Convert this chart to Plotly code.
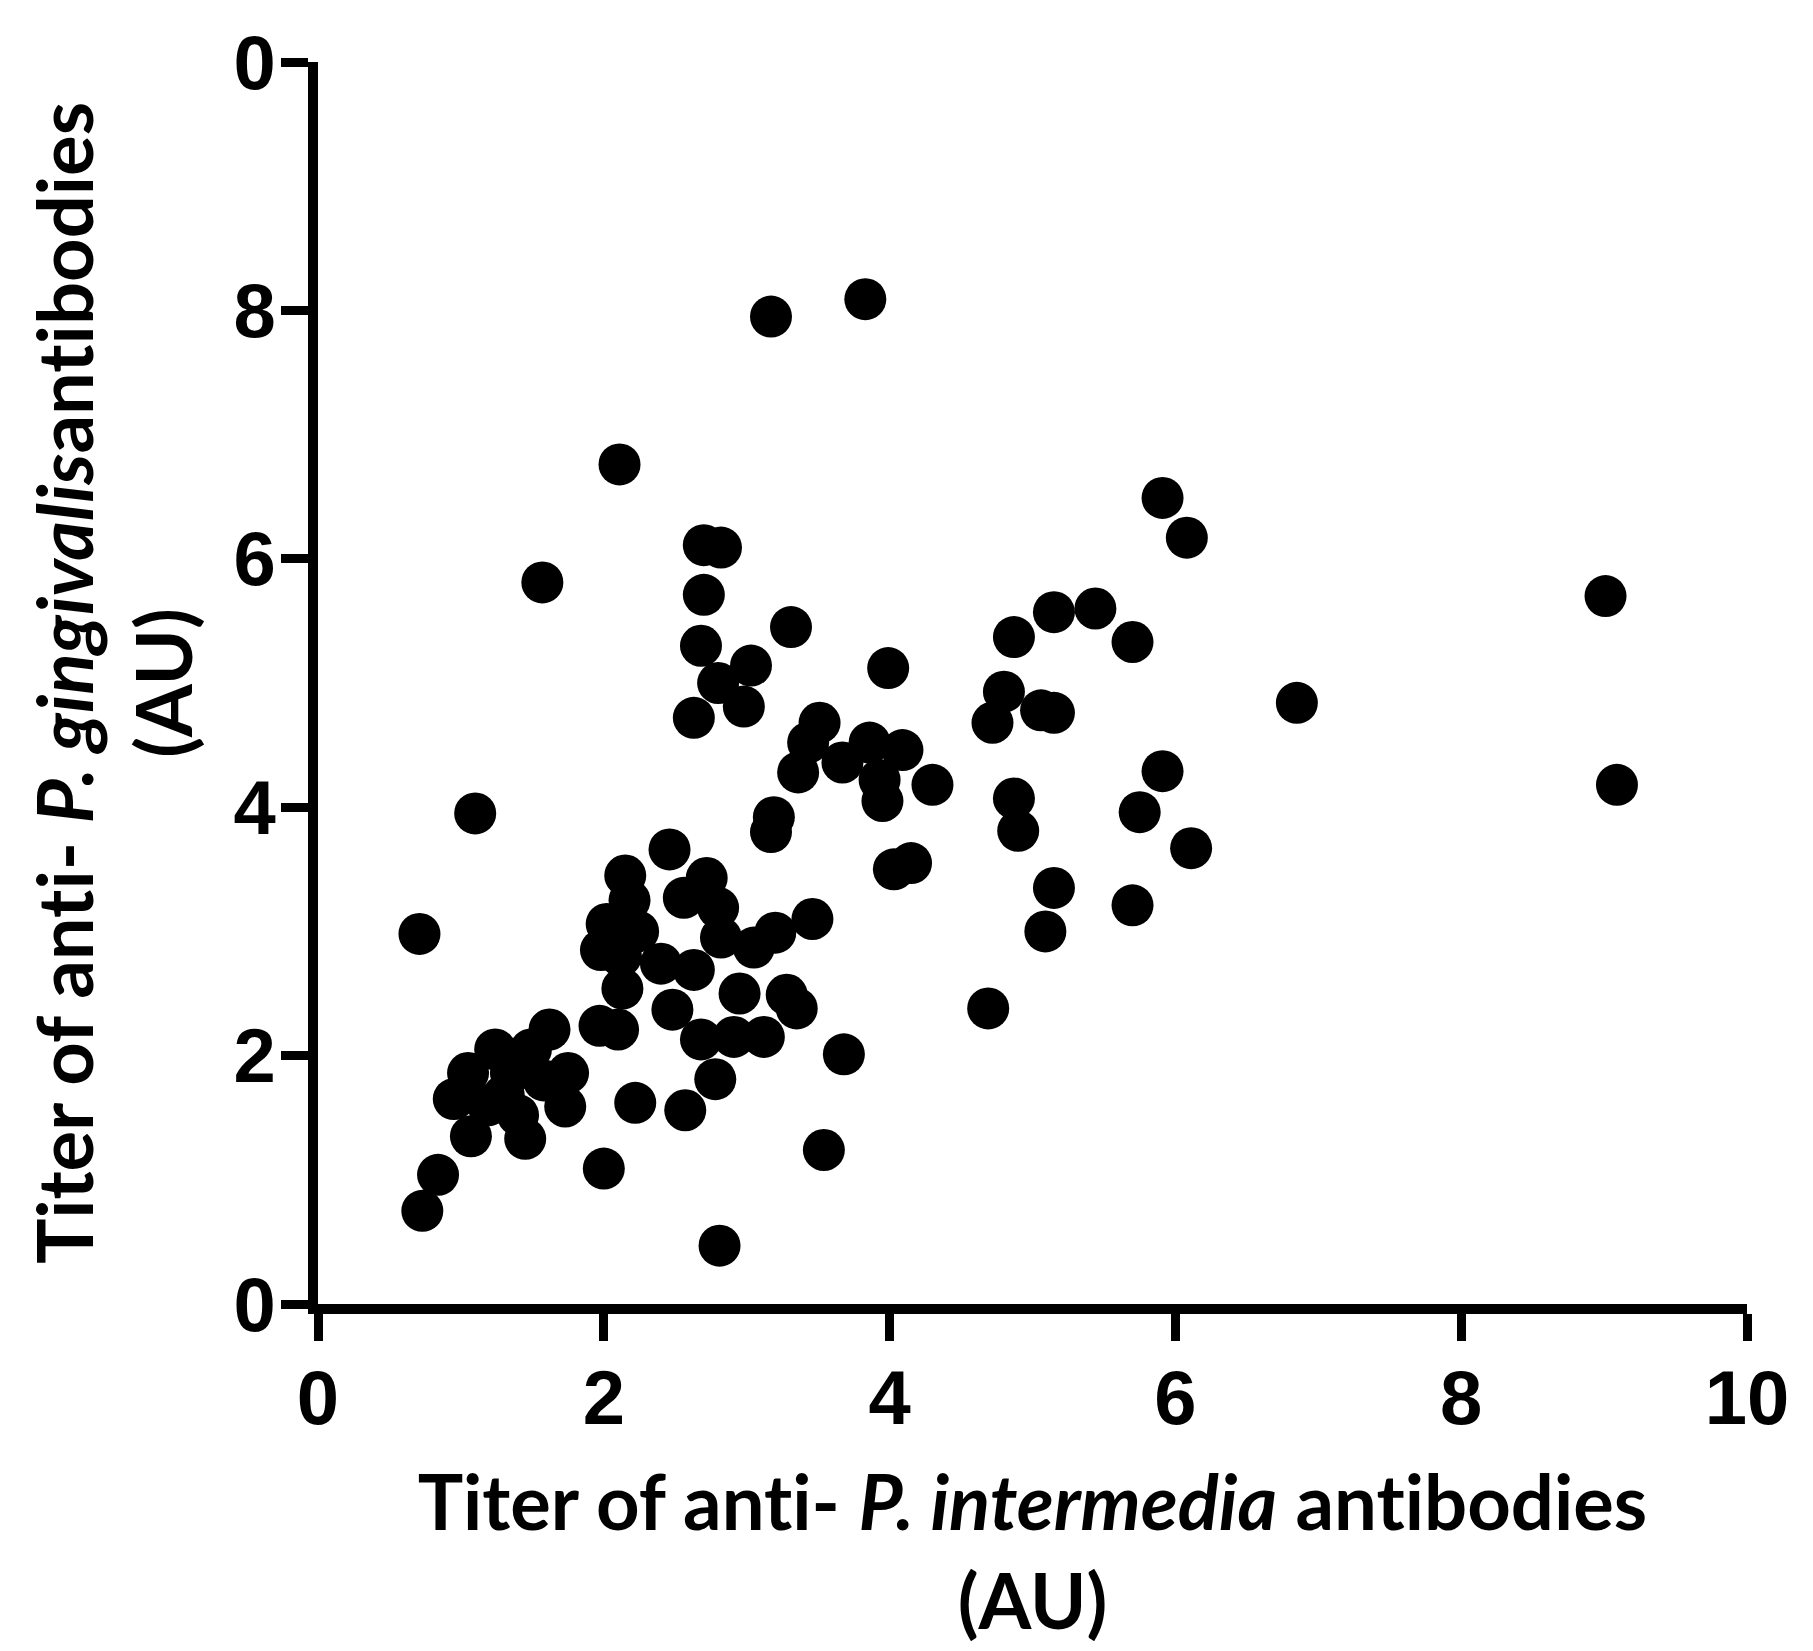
import plotly.graph_objects as go

# titer values (AU)
x_pi = [0.73, 0.84, 0.71, 1.10, 1.57, 2.11, 3.17, 3.83, 2.81, 2.00,
        0.95, 1.05, 1.07, 1.19, 1.24, 1.30, 1.35, 1.45, 1.49, 1.62, 1.73, 1.75, 1.40, 1.58,
        1.97, 2.10, 2.13, 1.98, 2.02, 2.15, 2.18, 2.24, 2.22, 2.12,
        2.46, 2.48, 2.40, 2.63, 2.57, 2.78, 2.72, 2.56, 2.80, 2.82, 2.68, 2.91, 3.12,
        2.95, 3.28, 3.35, 3.05, 3.20, 3.46, 3.68, 3.54,
        2.70, 2.82, 2.70, 2.68, 3.03, 3.31, 2.63, 2.80, 2.98,
        3.17, 3.19, 3.36, 3.43, 3.51, 3.67, 3.86, 4.09, 3.93, 3.95, 4.30, 3.99, 4.03, 4.15,
        4.69, 4.72, 4.80, 4.87, 5.15, 5.44, 5.70, 5.06, 5.15, 5.91, 5.75, 6.11,
        4.87, 4.90, 5.15, 5.09, 5.70, 5.91, 6.08, 6.85, 9.01, 9.09]
y_pg = [0.75, 1.04, 2.98, 3.95, 5.81, 6.76, 7.95, 8.09, 0.47, 1.09,
        1.65, 1.86, 1.35, 1.60, 2.05, 1.68, 1.86, 1.33, 2.05, 2.21, 1.59, 1.86, 1.52, 1.80,
        2.24, 2.21, 2.54, 2.85, 3.06, 3.45, 3.25, 3.00, 1.62, 2.80,
        3.66, 2.37, 2.74, 2.69, 1.56, 1.81, 3.43, 3.27, 3.19, 2.95, 2.13, 2.15, 2.15,
        2.50, 2.49, 2.38, 2.87, 2.99, 3.10, 2.01, 1.24,
        6.11, 6.09, 5.71, 5.30, 5.14, 5.45, 4.72, 5.00, 4.81,
        3.80, 3.92, 4.28, 4.52, 4.68, 4.36, 4.52, 4.46, 4.22, 4.05, 4.18, 5.12, 3.50, 3.55,
        2.38, 4.68, 4.93, 5.37, 5.57, 5.60, 5.33, 4.78, 4.76, 4.29, 3.96, 3.67,
        4.07, 3.81, 3.35, 3.00, 3.21, 6.49, 6.17, 4.84, 5.70, 4.18]

x_ticks = [0, 2, 4, 6, 8, 10]
x_ticktext = ["0", "2", "4", "6", "8", "10"]
y_ticks = [0, 2, 4, 6, 8, 10]
y_ticktext = ["0", "2", "4", "6", "8", "0"]

title_font = dict(family="Lato, Liberation Sans, Arial", size=76, color="black", weight="bold")
tick_font = dict(family="Liberation Sans, Arial", size=76, color="black", weight="bold")

# zero-width non-joiner keeps Lato from drawing the "ti" ligature
zw = "\u200c"
x_title = f"Titer of ant{zw}i- <i>P. intermedia</i> ant{zw}ibodies<br>(AU)"
y_title = f"Titer of ant{zw}i- <i>P. gingivalis</i>ant{zw}ibodies<br>(AU)"

fig = go.Figure()
fig.add_trace(go.Scatter(
    x=x_pi, y=y_pg, mode="markers",
    marker=dict(size=42, color="black", line=dict(width=0)),
    showlegend=False, cliponaxis=False,
))

fig.update_xaxes(
    range=[0, 10], tickvals=x_ticks, ticktext=x_ticktext,
    showline=True, linecolor="black", linewidth=10,
    ticks="outside", ticklen=27, tickwidth=9, tickcolor="black",
    tickfont=tick_font, ticklabelstandoff=-8,
    showgrid=False, zeroline=False,
    title=dict(text=x_title, font=title_font, standoff=42),
)
fig.update_yaxes(
    range=[0, 10], tickvals=y_ticks, ticktext=y_ticktext,
    showline=True, linecolor="black", linewidth=10,
    ticks="outside", ticklen=27, tickwidth=9, tickcolor="black",
    tickfont=tick_font, ticklabelstandoff=-10,
    showgrid=False, zeroline=False,
    title=dict(text=y_title, font=title_font, standoff=20),
)

fig.update_layout(
    width=1813, height=1651,
    margin=dict(l=310, r=74, t=44, b=355),
    plot_bgcolor="white", paper_bgcolor="white",
    font=dict(family="Lato, Liberation Sans, Arial", color="black"),
)

fig.write_html("out.html")
